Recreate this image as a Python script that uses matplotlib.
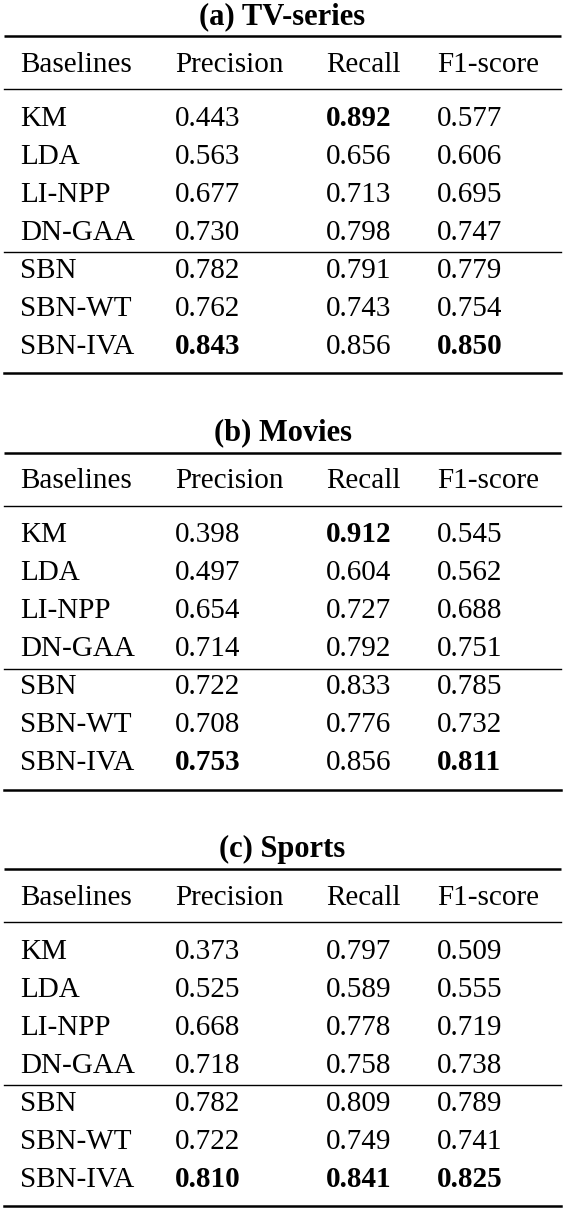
import matplotlib
matplotlib.use("Agg")
import matplotlib.pyplot as plt

# table data
titles = ['(a) TV-series', '(b) Movies', '(c) Sports']
columns = ['Baselines', 'Precision', 'Recall', 'F1-score']
methods = ['KM', 'LDA', 'LI-NPP', 'DN-GAA', 'SBN', 'SBN-WT', 'SBN-IVA']

tv_precision = [0.443, 0.563, 0.677, 0.730, 0.782, 0.762, 0.843]
tv_recall = [0.892, 0.656, 0.713, 0.798, 0.791, 0.743, 0.856]
tv_f1 = [0.577, 0.606, 0.695, 0.747, 0.779, 0.754, 0.850]

movies_precision = [0.398, 0.497, 0.654, 0.714, 0.722, 0.708, 0.753]
movies_recall = [0.912, 0.604, 0.727, 0.792, 0.833, 0.776, 0.856]
movies_f1 = [0.545, 0.562, 0.688, 0.751, 0.785, 0.732, 0.811]

sports_precision = [0.373, 0.525, 0.668, 0.718, 0.782, 0.722, 0.810]
sports_recall = [0.797, 0.589, 0.778, 0.758, 0.809, 0.749, 0.841]
sports_f1 = [0.509, 0.555, 0.719, 0.738, 0.789, 0.741, 0.825]

tables = [
    (tv_precision, tv_recall, tv_f1),
    (movies_precision, movies_recall, movies_f1),
    (sports_precision, sports_recall, sports_f1),
]

plt.rcParams['font.family'] = ['Liberation Serif', 'DejaVu Serif']
fs = 21

W, H = 565, 1211
fig = plt.figure(figsize=(W / 100, H / 100), dpi=100)
ax = fig.add_axes([0, 0, 1, 1])
ax.set_xlim(0, W)
ax.set_ylim(H, 0)
ax.axis('off')

col_x = [20, 175, 326, 437]
x0, x1 = 3.5, 561
row_step = 38

for t, (title, cols) in enumerate(zip(titles, tables)):
    top = 36 + t * 416.5
    ax.text(W / 2, top - 12, title, ha='center', va='baseline',
            fontsize=22, fontweight='bold')
    ax.plot([x0, x1], [top, top], color='black', lw=1.8, solid_capstyle='butt')
    for x, c in zip(col_x, columns):
        ax.text(x, top + 36, c, ha='left', va='baseline', fontsize=fs)
    ax.plot([x0, x1], [top + 53, top + 53], color='black', lw=1.0)
    ax.plot([x0, x1], [top + 216, top + 216], color='black', lw=1.0)
    ax.plot([x0, x1], [top + 337, top + 337], color='black', lw=1.8)
    for i, m in enumerate(methods):
        y = top + 90 + row_step * i
        ax.text(col_x[0], y, m, ha='left', va='baseline', fontsize=fs)
        for j, vals in enumerate(cols):
            best = vals[i] == max(vals)
            ax.text(col_x[j + 1], y, f'{vals[i]:.3f}', ha='left', va='baseline',
                    fontsize=fs, fontweight='bold' if best else 'normal')

fig.savefig('out.png', dpi=100)
